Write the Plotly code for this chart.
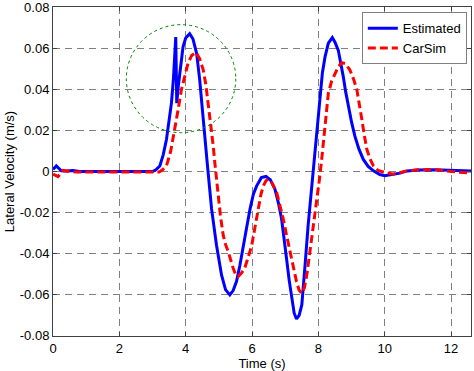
import plotly.graph_objects as go

# Estimated (blue)
est_t = [0, 0.1, 0.25, 0.4, 0.6, 0.8, 3.0, 3.1, 3.22, 3.32, 3.42, 3.5, 3.57, 3.63, 3.68, 3.70,
         3.715, 3.73, 3.78, 3.85, 3.92, 4.0, 4.12, 4.22, 4.33, 4.42, 4.48, 4.58, 4.65, 4.72,
         4.78, 4.93, 5.08, 5.2, 5.33, 5.43, 5.53, 5.63, 5.73, 5.84, 5.94, 6.04, 6.14, 6.28,
         6.42, 6.55, 6.69, 6.79, 6.89, 6.97, 7.04, 7.12, 7.19, 7.27, 7.34, 7.42, 7.50, 7.55,
         7.59, 7.69, 7.80, 7.90, 7.97, 8.05, 8.12, 8.20, 8.30, 8.42, 8.50, 8.60, 8.68, 8.75,
         8.82, 8.90, 9.0, 9.10, 9.22, 9.35, 9.5, 9.66, 9.85, 10.0, 10.2, 10.46, 10.68, 11.0,
         11.5, 12.0, 12.6]
est_v = [0.001, 0.0027, 0.0003, 0.0002, 0.0005, 0.0, 0.0, 0.0008, 0.0027, 0.008, 0.0156, 0.024,
         0.0333, 0.045, 0.062, 0.0655, 0.05, 0.0333, 0.042, 0.053, 0.0607, 0.065, 0.0671, 0.0645,
         0.0575, 0.045, 0.0333, 0.0156, 0.004, -0.008, -0.0182, -0.036, -0.0504, -0.0575, -0.0601,
         -0.058, -0.0536, -0.046, -0.036, -0.027, -0.0182, -0.011, -0.007, -0.003, -0.0024, -0.004,
         -0.0086, -0.015, -0.023, -0.032, -0.0424, -0.053, -0.0617, -0.069, -0.0718, -0.07, -0.065,
         -0.057, -0.0472, -0.0263, -0.007, 0.0124, 0.025, 0.0382, 0.048, 0.0558, 0.0625, 0.0652,
         0.063, 0.059, 0.053, 0.0462, 0.039, 0.0317, 0.024, 0.0172, 0.011, 0.006, 0.0025, 0.0003,
         -0.0015, -0.002, -0.0015, -0.0008, 0.0003, 0.0007, 0.0008, 0.0005, 0.0003]

# CarSim (red)
car_t = [0, 0.08, 0.15, 0.3, 0.4, 0.5, 0.7, 3.2, 3.3, 3.42, 3.55, 3.67, 3.77, 3.87, 3.97, 4.07,
         4.18, 4.31, 4.42, 4.53, 4.61, 4.68, 4.76, 4.83, 4.88, 4.93, 4.98, 5.05, 5.13, 5.2, 5.28,
         5.35, 5.43, 5.5, 5.58, 5.68, 5.78, 5.88, 5.99, 6.09, 6.19, 6.27, 6.34, 6.42, 6.49, 6.6,
         6.74, 6.84, 6.94, 7.04, 7.14, 7.24, 7.34, 7.42, 7.50, 7.58, 7.65, 7.72, 7.80, 7.87, 7.95,
         8.03, 8.10, 8.17, 8.24, 8.30, 8.4, 8.5, 8.6, 8.70, 8.82, 8.95, 9.06, 9.16, 9.24, 9.31,
         9.38, 9.46, 9.56, 9.66, 9.8, 10.0, 10.26, 10.45, 10.66, 11.0, 11.5, 12.0, 12.6]
car_v = [-0.0013, -0.002, -0.0025, 0.0005, 0.0002, 0.0, -0.0003, -0.0003, 0.0008, 0.0027, 0.01,
         0.0204, 0.030, 0.0398, 0.047, 0.0527, 0.0565, 0.058, 0.055, 0.0494, 0.042, 0.0333, 0.022,
         0.0124, 0.004, -0.004, -0.0134, -0.022, -0.031, -0.0355, -0.039, -0.043, -0.047, -0.050,
         -0.0512, -0.0495, -0.047, -0.042, -0.036, -0.027, -0.0182, -0.011, -0.007, -0.0045,
         -0.0037, -0.0055, -0.0101, -0.016, -0.023, -0.031, -0.039, -0.047, -0.0536, -0.0578,
         -0.0593, -0.0565, -0.0504, -0.042, -0.0327, -0.023, -0.0134, -0.004, 0.006, 0.018, 0.030,
         0.0382, 0.044, 0.0478, 0.051, 0.053, 0.0525, 0.0494, 0.045, 0.0398, 0.033, 0.0253, 0.018,
         0.0108, 0.006, 0.0027, 0.0005, -0.0005, -0.0013, -0.0005, 0.0003, 0.0008, 0.001, 0.0,
         -0.0008]

x_ticks = [0, 2, 4, 6, 8, 10, 12]
x_labels = ["0", "2", "4", "6", "8", "10", "12"]
y_ticks = [-0.08, -0.06, -0.04, -0.02, 0, 0.02, 0.04, 0.06, 0.08]
y_labels = ["-0.08", "-0.06", "-0.04", "-0.02", "0", "0.02", "0.04", "0.06", "0.08"]

# highlighted region (circle)
circle_x = [2.21, 5.51]
circle_y = [0.0189, 0.0715]

FONT = "Liberation Sans, Arial, sans-serif"

fig = go.Figure()
fig.add_trace(go.Scatter(x=est_t, y=est_v, mode="lines", name="Estimated",
                         line=dict(color="#0000ff", width=3)))
fig.add_trace(go.Scatter(x=car_t, y=car_v, mode="lines", name="CarSim",
                         line=dict(color="#ff0000", width=3, dash="8px,4px")))

fig.add_shape(type="circle", xref="x", yref="y",
              x0=circle_x[0], x1=circle_x[1], y0=circle_y[0], y1=circle_y[1],
              line=dict(color="#008000", width=1, dash="dot"))

axis_common = dict(showline=True, linecolor="#404040", linewidth=1, mirror="ticks",
                   ticks="inside", ticklen=4, tickcolor="#404040",
                   showgrid=True, gridcolor="#808080", gridwidth=1, griddash="7px,5px",
                   zeroline=False, ticklabeloverflow="allow",
                   tickfont=dict(family=FONT, size=13, color="#000"))

fig.update_xaxes(range=[0, 12.6], tickvals=x_ticks, ticktext=x_labels,
                 title=dict(text="Time (s)", font=dict(family=FONT, size=13, color="#000"),
                            standoff=2),
                 **axis_common)
fig.update_yaxes(range=[-0.0801, 0.0801], tickvals=y_ticks, ticktext=y_labels,
                 title=dict(text="Lateral Velocity (m/s)",
                            font=dict(family=FONT, size=13, color="#000"),
                            standoff=2),
                 **axis_common)

fig.update_layout(
    width=474, height=371,
    margin=dict(l=53, r=3, t=7, b=35, autoexpand=False),
    paper_bgcolor="white", plot_bgcolor="white",
    showlegend=True,
    legend=dict(x=0.99, y=0.984, xanchor="right", yanchor="top",
                bgcolor="white", bordercolor="#7f7f7f", borderwidth=1,
                font=dict(family=FONT, size=13, color="#000"),
                itemwidth=30, tracegroupgap=0),
)

fig.write_html("out.html", config={"displayModeBar": False},
               post_script="document.body.style.margin='0';document.body.style.padding='0';")
